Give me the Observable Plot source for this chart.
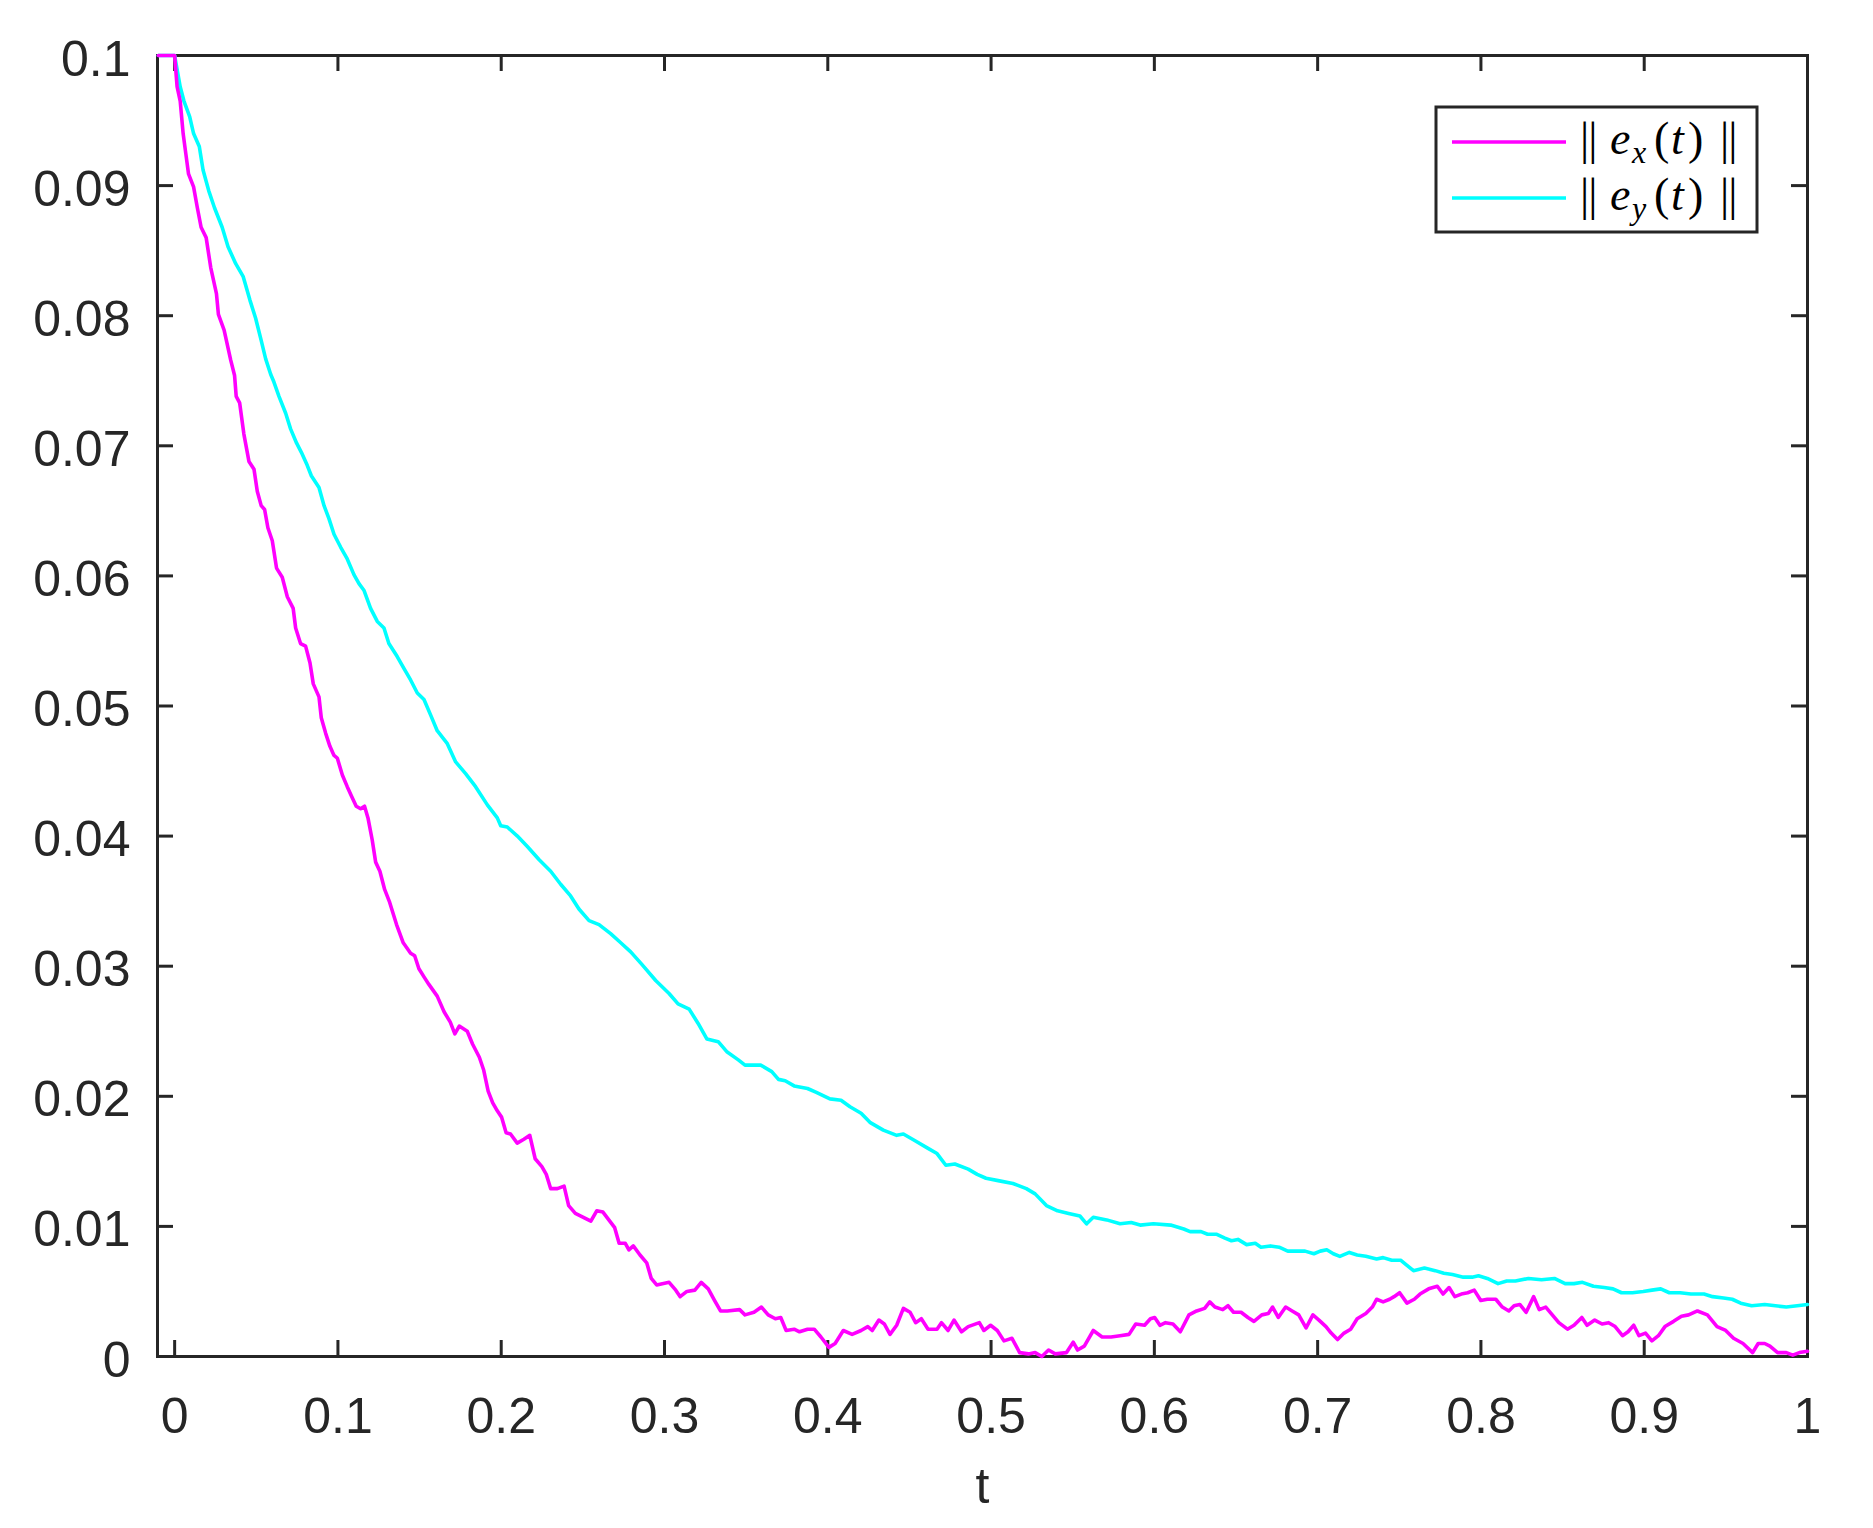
<!DOCTYPE html>
<html>
<head>
<meta charset="utf-8">
<script src="https://cdn.jsdelivr.net/npm/d3@7"></script>
<script src="https://cdn.jsdelivr.net/npm/@observablehq/plot@0.6"></script>
<style>
  html, body { margin: 0; padding: 0; background: #fff; }
  #chart svg { display: block; }
</style>
</head>
<body>
<div id="chart"></div>
<script>
// ---- data ----
const tx = [-0.01,0.0,0.0015,0.0034,0.0052,0.0069,0.0085,0.0116,0.0139,0.0162,0.0193,0.0221,0.0256,0.0268,0.0303,0.0343,0.0367,0.0377,0.0398,0.0424,0.0455,0.0486,0.0506,0.0530,0.0551,0.0571,0.0598,0.0624,0.0659,0.0690,0.0726,0.0741,0.0771,0.0802,0.0829,0.0849,0.0884,0.0898,0.0925,0.0951,0.0976,0.0996,0.1027,0.1057,0.1082,0.1112,0.1139,0.1163,0.1184,0.1210,0.1231,0.1257,0.1286,0.1317,0.1359,0.1400,0.1445,0.1470,0.1496,0.1531,0.1557,0.1608,0.1650,0.1688,0.1716,0.1743,0.1792,0.1825,0.1866,0.1893,0.1920,0.1948,0.1975,0.2002,0.2030,0.2057,0.2098,0.2139,0.2175,0.2208,0.2249,0.2276,0.2303,0.2344,0.2385,0.2413,0.2454,0.2503,0.2549,0.2585,0.2623,0.2659,0.2695,0.2722,0.2760,0.2782,0.2809,0.2850,0.2891,0.2919,0.2952,0.2987,0.3028,0.3069,0.3096,0.3137,0.3186,0.3225,0.3268,0.3307,0.3343,0.3384,0.3460,0.3493,0.3548,0.3594,0.3635,0.3679,0.3712,0.3745,0.3794,0.3827,0.3876,0.3917,0.3958,0.4007,0.4045,0.4095,0.4149,0.4204,0.4245,0.4272,0.4313,0.4346,0.4381,0.4422,0.4463,0.4504,0.4538,0.4573,0.4614,0.4669,0.4696,0.4737,0.4773,0.4819,0.4860,0.4928,0.4956,0.4997,0.5038,0.5079,0.5128,0.5175,0.5229,0.5270,0.5311,0.5352,0.5393,0.5462,0.5503,0.5530,0.5571,0.5626,0.5680,0.5735,0.5790,0.5845,0.5886,0.5940,0.5976,0.6002,0.6034,0.6068,0.6114,0.6159,0.6212,0.6259,0.6308,0.6339,0.6371,0.6419,0.6451,0.6485,0.6531,0.6573,0.6610,0.6658,0.6698,0.6724,0.6759,0.6804,0.6844,0.6884,0.6929,0.6971,0.7008,0.7051,0.7083,0.7122,0.7162,0.7202,0.7242,0.7295,0.7335,0.7361,0.7401,0.7441,0.7468,0.7502,0.7547,0.7592,0.7627,0.7680,0.7733,0.7768,0.7805,0.7840,0.7880,0.7919,0.7959,0.7999,0.8039,0.8091,0.8131,0.8171,0.8203,0.8238,0.8277,0.8323,0.8357,0.8397,0.8437,0.8477,0.8530,0.8570,0.8618,0.8650,0.8697,0.8742,0.8782,0.8822,0.8867,0.8901,0.8936,0.8968,0.9008,0.9047,0.9087,0.9127,0.9180,0.9228,0.9272,0.9326,0.9387,0.9446,0.9499,0.9547,0.9605,0.9664,0.9698,0.9738,0.9770,0.9817,0.9870,0.9910,0.9950,1.0];
const ex = [0.1,0.1,0.0976,0.0965,0.0940,0.0924,0.0909,0.0899,0.0883,0.0868,0.0860,0.0837,0.0817,0.0801,0.0789,0.0766,0.0754,0.0738,0.0733,0.0709,0.0688,0.0682,0.0665,0.0654,0.0651,0.0637,0.0627,0.0606,0.0599,0.0584,0.0575,0.0560,0.0548,0.0546,0.0533,0.0517,0.0507,0.0491,0.0479,0.0469,0.0462,0.0460,0.0447,0.0438,0.0431,0.0423,0.0421,0.0423,0.0414,0.0397,0.0380,0.0373,0.0359,0.0349,0.0332,0.0318,0.0310,0.0308,0.0298,0.0291,0.0286,0.0277,0.0265,0.0257,0.0248,0.0254,0.0250,0.0240,0.0230,0.0220,0.0204,0.0195,0.0189,0.0184,0.0172,0.0171,0.0164,0.0167,0.0170,0.0152,0.0146,0.0140,0.0129,0.0129,0.0131,0.0116,0.0110,0.0107,0.0104,0.0112,0.0111,0.0105,0.0099,0.0087,0.0087,0.0082,0.0085,0.0078,0.0072,0.0060,0.0055,0.0056,0.0057,0.0051,0.0046,0.0050,0.0051,0.0057,0.0052,0.0043,0.0035,0.0035,0.0036,0.0032,0.0034,0.0038,0.0032,0.0029,0.0030,0.0020,0.0021,0.0019,0.0021,0.0021,0.0015,0.0007,0.0010,0.0020,0.0017,0.0020,0.0023,0.0020,0.0028,0.0025,0.0017,0.0024,0.0037,0.0034,0.0026,0.0029,0.0021,0.0021,0.0026,0.0020,0.0028,0.0019,0.0023,0.0026,0.0020,0.0024,0.0020,0.0012,0.0014,0.0003,0.0002,0.0003,0.0000,0.0005,0.0002,0.0003,0.0011,0.0005,0.0008,0.0020,0.0015,0.0015,0.0016,0.0017,0.0025,0.0024,0.0029,0.0030,0.0024,0.0026,0.0025,0.0019,0.0032,0.0035,0.0037,0.0042,0.0038,0.0036,0.0039,0.0034,0.0034,0.0030,0.0027,0.0032,0.0033,0.0038,0.0030,0.0038,0.0035,0.0032,0.0022,0.0032,0.0028,0.0023,0.0018,0.0013,0.0018,0.0021,0.0029,0.0033,0.0038,0.0044,0.0042,0.0044,0.0046,0.0049,0.0041,0.0044,0.0048,0.0052,0.0054,0.0048,0.0053,0.0046,0.0048,0.0049,0.0051,0.0043,0.0044,0.0044,0.0038,0.0035,0.0039,0.0040,0.0034,0.0046,0.0036,0.0038,0.0032,0.0026,0.0021,0.0024,0.0030,0.0024,0.0028,0.0025,0.0026,0.0023,0.0016,0.0019,0.0024,0.0016,0.0018,0.0012,0.0016,0.0023,0.0027,0.0031,0.0032,0.0035,0.0032,0.0023,0.0020,0.0014,0.0010,0.0003,0.0010,0.0010,0.0008,0.0003,0.0003,0.0001,0.0003,0.0004];

const ty = [-0.01,0.0,0.0034,0.0057,0.0092,0.0116,0.0151,0.0174,0.0209,0.0244,0.0291,0.0327,0.0374,0.0420,0.0461,0.0496,0.0530,0.0557,0.0588,0.0608,0.0639,0.0680,0.0710,0.0747,0.0776,0.0812,0.0837,0.0884,0.0915,0.0945,0.0976,0.1017,0.1057,0.1098,0.1129,0.1159,0.1200,0.1241,0.1282,0.1312,0.1363,0.1404,0.1445,0.1486,0.1527,0.1568,0.1608,0.1670,0.1721,0.1782,0.1843,0.1915,0.1976,0.1997,0.2037,0.2099,0.2160,0.2231,0.2303,0.2364,0.2425,0.2476,0.2538,0.2599,0.2670,0.2732,0.2793,0.2864,0.2946,0.3028,0.3083,0.3151,0.3206,0.3260,0.3329,0.3384,0.3452,0.3493,0.3548,0.3589,0.3657,0.3698,0.3739,0.3794,0.3876,0.3930,0.4013,0.4081,0.4136,0.4204,0.4258,0.4340,0.4422,0.4463,0.4532,0.4614,0.4669,0.4723,0.4778,0.4860,0.4915,0.4969,0.5051,0.5134,0.5216,0.5270,0.5339,0.5407,0.5475,0.5544,0.5585,0.5626,0.5708,0.5790,0.5858,0.5913,0.5994,0.6100,0.6180,0.6219,0.6286,0.6326,0.6379,0.6432,0.6472,0.6512,0.6565,0.6618,0.6653,0.6711,0.6764,0.6817,0.6870,0.6923,0.6977,0.7016,0.7056,0.7096,0.7136,0.7194,0.7242,0.7295,0.7361,0.7401,0.7454,0.7508,0.7547,0.7587,0.7654,0.7720,0.7773,0.7826,0.7892,0.7946,0.7985,0.8039,0.8105,0.8158,0.8211,0.8291,0.8371,0.8450,0.8516,0.8570,0.8622,0.8689,0.8755,0.8809,0.8861,0.8928,0.8994,0.9047,0.9101,0.9154,0.9220,0.9286,0.9366,0.9419,0.9486,0.9539,0.9591,0.9658,0.9738,0.9804,0.9870,0.9937,1.0];
const ey = [0.1,0.1,0.0976,0.0965,0.0953,0.0940,0.0930,0.0912,0.0896,0.0883,0.0868,0.0853,0.0840,0.0830,0.0812,0.0798,0.0781,0.0767,0.0755,0.0749,0.0738,0.0725,0.0713,0.0702,0.0695,0.0685,0.0677,0.0668,0.0654,0.0644,0.0632,0.0622,0.0613,0.0601,0.0594,0.0589,0.0575,0.0565,0.0560,0.0548,0.0538,0.0529,0.0520,0.0510,0.0505,0.0493,0.0481,0.0471,0.0457,0.0448,0.0438,0.0424,0.0414,0.0408,0.0407,0.0400,0.0392,0.0382,0.0373,0.0363,0.0354,0.0344,0.0335,0.0332,0.0325,0.0318,0.0311,0.0301,0.0289,0.0279,0.0271,0.0267,0.0256,0.0244,0.0242,0.0234,0.0228,0.0224,0.0224,0.0224,0.0219,0.0213,0.0212,0.0208,0.0206,0.0203,0.0198,0.0197,0.0192,0.0187,0.0180,0.0174,0.0170,0.0171,0.0166,0.0160,0.0156,0.0147,0.0148,0.0144,0.0140,0.0137,0.0135,0.0133,0.0129,0.0125,0.0116,0.0112,0.0110,0.0108,0.0102,0.0107,0.0105,0.0102,0.0103,0.0101,0.0102,0.0101,0.0098,0.0096,0.0096,0.0094,0.0094,0.0091,0.0089,0.0090,0.0086,0.0087,0.0084,0.0085,0.0084,0.0081,0.0081,0.0081,0.0079,0.0081,0.0082,0.0079,0.0077,0.0080,0.0078,0.0077,0.0075,0.0076,0.0074,0.0074,0.0070,0.0066,0.0068,0.0066,0.0064,0.0063,0.0061,0.0061,0.0062,0.0060,0.0056,0.0058,0.0058,0.0060,0.0059,0.0060,0.0056,0.0056,0.0057,0.0054,0.0053,0.0052,0.0049,0.0049,0.0050,0.0051,0.0052,0.0049,0.0049,0.0048,0.0048,0.0046,0.0045,0.0044,0.0041,0.0039,0.0040,0.0039,0.0038,0.0039,0.0040];

const xTicks = [0, 0.1, 0.2, 0.3, 0.4, 0.5, 0.6, 0.7, 0.8, 0.9, 1];
const xTickLabels = ["0", "0.1", "0.2", "0.3", "0.4", "0.5", "0.6", "0.7", "0.8", "0.9", "1"];
const yTicks = [0, 0.01, 0.02, 0.03, 0.04, 0.05, 0.06, 0.07, 0.08, 0.09, 0.1];
const yTickLabels = ["0", "0.01", "0.02", "0.03", "0.04", "0.05", "0.06", "0.07", "0.08", "0.09", "0.1"];
const xDomain = [-0.0105, 1];
const yDomain = [0, 0.1];
const xLabel = "t";
const seriesSubs = ["x", "y"];
const seriesColors = ["#ff00ff", "#00ffff"];

// ---- styles ----
const axisColor = "#262626";
const fontFamily = "'Liberation Sans', Arial, Helvetica, sans-serif";
const fs = 50;
const tick = 16;

const chart = Plot.plot({
  width: 1873,
  height: 1528,
  marginLeft: 157,
  marginRight: 66,
  marginTop: 55,
  marginBottom: 172,
  style: {fontFamily, fontSize: fs + "px", color: axisColor, background: "#fff", overflow: "visible"},
  x: {domain: xDomain},
  y: {domain: yDomain},
  marks: [
    Plot.frame({stroke: axisColor, strokeWidth: 3}),
    // inward ticks on all four sides
    Plot.ruleX(xTicks, {x: d => d, y1: yDomain[0], y2: yDomain[0], insetBottom: tick, stroke: axisColor, strokeWidth: 3}),
    Plot.ruleX(xTicks, {x: d => d, y1: yDomain[1], y2: yDomain[1], insetBottom: -tick, stroke: axisColor, strokeWidth: 3}),
    Plot.ruleY(yTicks, {y: d => d, x1: xDomain[0], x2: xDomain[0], insetRight: -tick, stroke: axisColor, strokeWidth: 3}),
    Plot.ruleY(yTicks, {y: d => d, x1: xDomain[1], x2: xDomain[1], insetRight: tick, stroke: axisColor, strokeWidth: 3}),
    Plot.axisX(xTicks, {tickSize: 0, tickPadding: 41, tickFormat: d => xTickLabels[xTicks.indexOf(d)], label: null, fontSize: fs, fill: axisColor}),
    Plot.axisY(yTicks, {tickSize: 0, tickPadding: 27, dy: 4, tickFormat: d => yTickLabels[yTicks.indexOf(d)], label: null, fontSize: fs, fill: axisColor}),
    Plot.text([xLabel], {frameAnchor: "bottom", dy: 146, text: d => d, fontSize: fs, fill: axisColor}),
    Plot.line(ey, {x: ty, y: ey, stroke: seriesColors[1], strokeWidth: 3.6}),
    Plot.line(ex, {x: tx, y: ex, stroke: seriesColors[0], strokeWidth: 3.6})
  ]
});

// ---- legend (inside the axes, top-right) ----
const svg = d3.select(chart);
const lg = svg.append("g").attr("class", "legend").attr("text-anchor", "start");
lg.append("rect").attr("x", 1436).attr("y", 107).attr("width", 321).attr("height", 125)
  .attr("fill", "#fff").attr("stroke", axisColor).attr("stroke-width", 3);
const serif = "'Liberation Serif', 'DejaVu Serif', 'Times New Roman', serif";
seriesSubs.forEach((sub, i) => {
  const yMid = 142 + i * 56;
  const base = yMid + 12;
  lg.append("line").attr("x1", 1452).attr("x2", 1566).attr("y1", yMid).attr("y2", yMid)
    .attr("stroke", seriesColors[i]).attr("stroke-width", 3.6);
  const t = lg.append("text").attr("y", base)
    .attr("font-family", serif).attr("font-size", 46).attr("fill", "#000").attr("text-anchor", "start");
  t.append("tspan").attr("x", 1580).attr("letter-spacing", -1).text("||");
  t.append("tspan").attr("x", 1610).attr("font-style", "italic").text("e");
  t.append("tspan").attr("x", 1632).attr("y", base + 9).attr("font-style", "italic").attr("font-size", 32).text(sub);
  t.append("tspan").attr("x", 1654).attr("y", base).text("(");
  t.append("tspan").attr("x", 1671).attr("font-style", "italic").text("t");
  t.append("tspan").attr("x", 1688).text(")");
  t.append("tspan").attr("x", 1720).attr("letter-spacing", -1).text("||");
});

document.getElementById("chart").appendChild(chart);
</script>
</body>
</html>
